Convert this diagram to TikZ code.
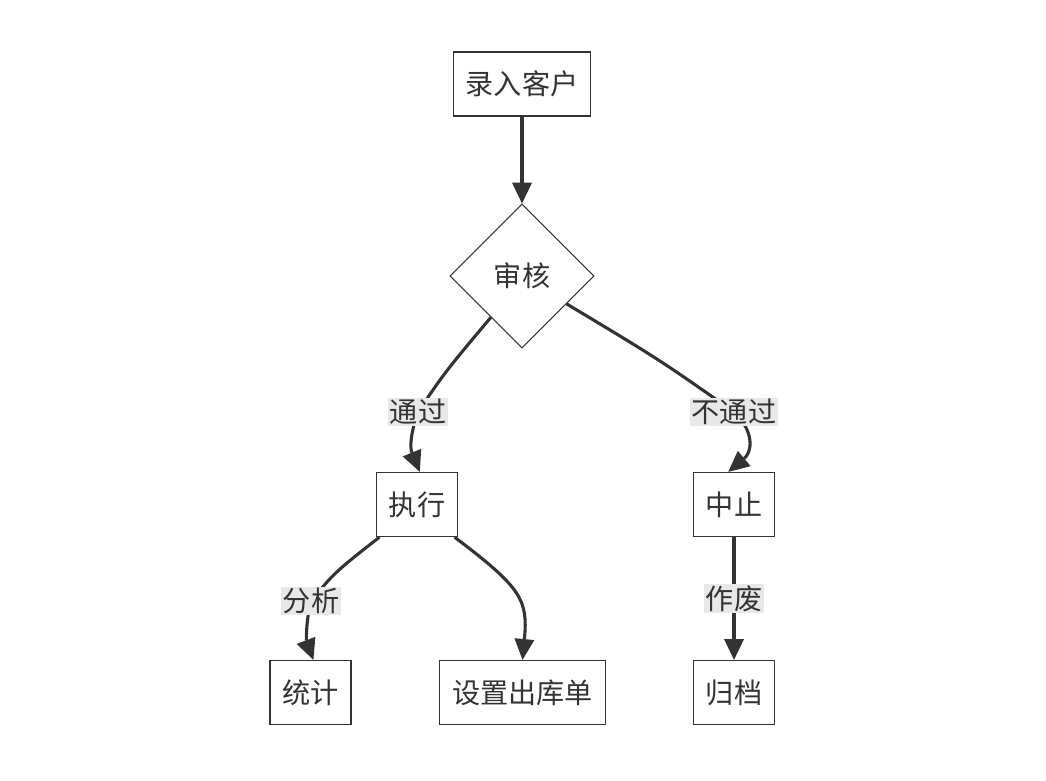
\documentclass[tikz,border=0pt]{standalone}
\usepackage{fontspec}
\newfontfamily\cjk{Noto Sans CJK SC}
\usepackage{tikz}
\usetikzlibrary{arrows.meta,shapes.geometric,calc}
\definecolor{inkgray}{HTML}{333333}
\definecolor{labelbg}{HTML}{E8E8E8}
\tikzset{
  procbox/.style={draw=inkgray, line width=0.9pt, fill=white, minimum height=1.6cm,
    inner xsep=0.31cm, text=inkgray, font=\cjk\fontsize{20}{24}\selectfont},
  checknode/.style={shape=diamond, draw=inkgray, line width=0.7pt, fill=white,
    minimum size=3.6cm, inner sep=0pt, text=inkgray, font=\cjk\fontsize{20}{24}\selectfont},
  flow/.style={draw=inkgray, line width=2.2pt,
    -{Triangle[length=0.52cm,width=0.5cm,line width=0pt]}},
  edgelabel/.style={fill=labelbg, inner sep=1pt, text=inkgray,
    font=\cjk\fontsize{20}{24}\selectfont}
}

\begin{document}
\begin{tikzpicture}[x=0.025cm,y=-0.025cm]
\useasboundingbox (0,0) rectangle (1046,781);

% nodes
\node[procbox] (lr) at (522,84) {录入客户};
\node[checknode] (sh) at (522,276) {审核};
\node[procbox] (zx) at (417,504.5) {执行};
\node[procbox] (zz) at (734,504.5) {中止};
\node[procbox] (tj) at (310.5,692.5) {统计};
\node[procbox] (ck) at (522.5,692.5) {设置出库单};
\node[procbox] (gd) at (734,692.5) {归档};

% connectors
\draw[flow] (lr) -- (sh);
\draw[flow] (sh.-127) .. controls (445,372) .. (418,412) node[edgelabel] {通过}
  .. controls (410,435) and (410,448) .. (zx.85);
\draw[flow] (sh.-32) .. controls (660,360) .. (734,412) node[edgelabel] {不通过}
  .. controls (755,432) and (752,452) .. (zz.100);
\draw[flow] (zx.-139) .. controls (335,572) .. (311,601) node[edgelabel] {分析}
  .. controls (305,625) and (307,643) .. (tj.85);
\draw[flow] (zx.-41) .. controls (522,588) and (528,600) .. (ck.north);
\draw[flow] (zz) -- node[edgelabel] {作废} (gd);
\end{tikzpicture}
\end{document}
